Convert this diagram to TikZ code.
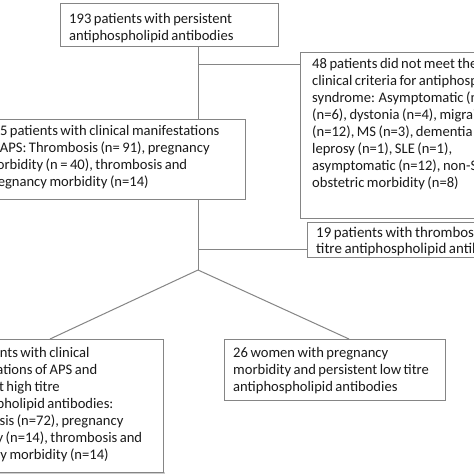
\documentclass[tikz,border=0pt]{standalone}
\usepackage{fontspec}
\setmainfont{Carlito}
\definecolor{boxgray}{HTML}{858585}
\definecolor{txtgray}{HTML}{1A1A1A}
\newcommand{\flowfont}{\fontsize{14.6}{17}\selectfont\spaceskip=2.5pt plus 1pt minus 0.5pt\relax}
\newcommand{\flowfontb}{\fontsize{14.9}{15.5}\selectfont\spaceskip=2.6pt plus 1pt minus 0.5pt\relax}
\tikzset{
  boxnode/.style={draw=boxgray, line width=1.1pt, rectangle, anchor=north west, inner sep=0pt, fill=white},
  txtnode/.style={anchor=base west, inner sep=0pt, align=left, text=txtgray, font=\flowfont},
  conn/.style={draw=boxgray, line width=1pt}
}
\begin{document}
\begin{tikzpicture}[x=1pt,y=-1pt]
\useasboundingbox (0,0) rectangle (474,474);
\fill[white] (0,0) rectangle (474,474);
\clip (0,0) rectangle (474,474);
% boxes
\node[boxnode, minimum width=218pt, minimum height=43pt] (top) at (60,3) {};
\node[boxnode, minimum width=220pt, minimum height=166pt] (r1) at (300,52) {};
\node[boxnode, minimum width=280pt, minimum height=80pt] (l2) at (-35,119) {};
\node[boxnode, minimum width=200pt, minimum height=35pt] (r2) at (307,222) {};
\fill[boxgray!40] (-70,472) rectangle (165,474.5);
\node[boxnode, minimum width=233pt, minimum height=133pt] (l3) at (-70,339) {};
\node[boxnode, minimum width=221pt, minimum height=61pt] (r3) at (224,339) {};
% texts (anchor = baseline of the last line)
\node[txtnode] (ttop) at (69,40) {193 patients with persistent\\antiphospholipid antibodies};
\node[txtnode] (tr1) at (312,187) {48 patients did not meet the\\clinical criteria for antiphospholipid\\syndrome: Asymptomatic (n=\\(n=6), dystonia (n=4), migraine\\(n=12), MS (n=3), dementia (n=\\leprosy (n=1), SLE (n=1),\\asymptomatic (n=12), non-SLE\\obstetric morbidity (n=8)};
\node[txtnode] (tl2) at (-15,186) {175 patients with clinical manifestations\\of APS: Thrombosis (n= 91), pregnancy\\morbidity (n = 40), thrombosis and\\pregnancy morbidity (n=14)};
\node[txtnode, font=\flowfontb] (tr2) at (316,253) {19 patients with thrombosis and low\\titre antiphospholipid antibodies};
\node[txtnode] (tl3) at (-55,459) {100 patients with clinical\\manifestations of APS and\\persistent high titre\\antiphospholipid antibodies:\\Thrombosis (n=72), pregnancy\\morbidity (n=14), thrombosis and\\pregnancy morbidity (n=14)};
\node[txtnode] (tr3) at (233,391) {26 women with pregnancy\\morbidity and persistent low titre\\antiphospholipid antibodies};
% junctions
\coordinate (j1) at (198,64);
\coordinate (j2) at (198,249);
\coordinate (apex) at (198,270);
\coordinate (l3top) at (50,339);
\coordinate (r3top) at (349,339);
% connectors
\draw[conn] (top.south -| j1) -- (l2.north -| j1);
\draw[conn] (j1) -- (r1.west |- j1);
\draw[conn] (l2.south -| j2) -- (apex);
\draw[conn] (j2) -- (r2.west |- j2);
\draw[conn] (apex) -- (l3top);
\draw[conn] (apex) -- (r3top);
\end{tikzpicture}
\end{document}
